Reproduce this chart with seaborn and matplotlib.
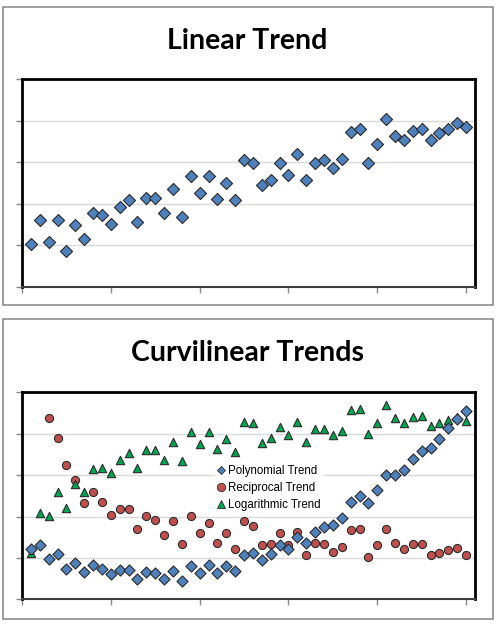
import numpy as np
import pandas as pd
import matplotlib.pyplot as plt
from matplotlib.patches import Rectangle
from matplotlib.lines import Line2D
import seaborn as sns

# datos (x = 1..50)
x = list(range(1, 51))

linear = [10.4, 16.2, 10.9, 16.2, 8.7, 15.0, 11.6, 17.7, 17.2, 15.2,
          19.3, 20.9, 15.7, 21.4, 21.4, 17.7, 23.5, 16.9, 26.8, 22.5,
          26.6, 21.1, 24.9, 20.9, 30.5, 29.9, 24.4, 25.8, 29.7, 27.0,
          31.9, 25.7, 29.9, 30.5, 28.7, 30.7, 37.2, 38.1, 29.9, 34.3,
          40.3, 36.4, 35.3, 37.5, 38.1, 35.3, 37.0, 38.1, 39.4, 38.4]

polynomial = [12.1, 13.0, 9.8, 10.9, 7.2, 8.8, 6.5, 8.3, 7.2, 6.0,
              7.0, 7.0, 4.9, 6.5, 6.3, 4.9, 6.8, 4.3, 8.1, 6.3,
              8.3, 6.3, 8.1, 6.8, 10.7, 11.1, 9.4, 10.9, 13.0, 12.2,
              15.1, 13.6, 16.3, 17.5, 17.9, 19.7, 23.4, 25.0, 23.2, 26.4,
              30.0, 30.0, 31.2, 33.9, 35.8, 36.5, 38.8, 41.3, 43.5, 45.5]

# los dos primeros quedan fuera del grafico
reciprocal = [np.nan, np.nan, 43.9, 39.0, 32.4, 28.8, 23.3, 25.8, 23.5, 20.4,
              21.9, 21.9, 17.0, 20.1, 19.2, 15.5, 18.9, 13.4, 20.1, 16.1,
              18.5, 13.7, 15.9, 12.2, 18.8, 17.8, 13.0, 13.4, 15.9, 13.2,
              16.3, 10.8, 13.7, 13.4, 11.5, 12.6, 16.8, 17.1, 10.3, 13.0,
              17.1, 13.7, 12.2, 13.4, 13.4, 10.8, 11.2, 11.8, 12.3, 10.8]

logarithmic = [11.1, 20.9, 20.1, 26.0, 22.1, 27.8, 26.0, 31.4, 31.6, 30.4,
               33.7, 35.3, 31.8, 36.0, 36.1, 33.6, 37.9, 33.3, 40.5, 37.4,
               40.3, 36.2, 38.8, 35.7, 42.9, 42.5, 37.8, 39.0, 41.6, 39.6,
               42.9, 38.0, 41.1, 41.1, 39.7, 40.7, 45.8, 45.9, 39.9, 42.7,
               47.0, 43.9, 42.7, 44.1, 44.3, 41.9, 42.7, 43.3, 44.1, 43.1]

titles = ["Linear Trend", "Curvilinear Trends"]
legend_labels = ["Polynomial Trend", "Reciprocal Trend", "Logarithmic Trend"]

blue = "#4F81BD"
red = "#C0504D"
green = "#00A550"
edge = "#2b2b2b"

sns.set_style("white")
plt.rcParams['font.family'] = ['Liberation Sans', 'DejaVu Sans']

fig = plt.figure(figsize=(4.99, 6.24), dpi=100)

# marcos de cada grafico
for (y0, y1) in [(7, 305), (319, 619)]:
    fig.patches.append(Rectangle((3 / 499, 1 - y1 / 624), 490 / 499, (y1 - y0) / 624,
                                 transform=fig.transFigure, fill=False,
                                 edgecolor="#8c8c8c", linewidth=1.2))

ax1 = fig.add_axes([22 / 499, 1 - 287 / 624, 453 / 499, 208 / 624])
ax2 = fig.add_axes([22 / 499, 1 - 599.3 / 624, 453 / 499, 207 / 624])

df1 = pd.DataFrame({"x": x, "y": linear})
sns.scatterplot(data=df1, x="x", y="y", ax=ax1, marker="D", s=38,
                color=blue, edgecolor=edge, linewidth=0.8, zorder=3)

df2 = pd.DataFrame({"x": x, "poly": polynomial, "rec": reciprocal, "log": logarithmic})
sns.scatterplot(data=df2, x="x", y="rec", ax=ax2, marker="o", s=34,
                color=red, edgecolor=edge, linewidth=0.8, zorder=3)
sns.scatterplot(data=df2, x="x", y="log", ax=ax2, marker="^", s=36,
                color=green, edgecolor=edge, linewidth=0.8, zorder=3)
sns.scatterplot(data=df2, x="x", y="poly", ax=ax2, marker="D", s=32,
                color=blue, edgecolor=edge, linewidth=0.8, zorder=4)

for ax in [ax1, ax2]:
    ax.set_xlim(0, 51)
    ax.set_ylim(0, 50)
    ax.set_xticks(range(0, 51, 10))
    ax.set_yticks(range(0, 51, 10))
    ax.set_xticklabels([])
    ax.set_yticklabels([])
    ax.set_xlabel("")
    ax.set_ylabel("")
    ax.grid(axis="y", color="#d9d9d9", linewidth=1)
    ax.set_axisbelow(True)
    ax.tick_params(axis="both", direction="out", length=4, width=1,
                   color="#868686", bottom=True, left=True)
    for side in ["top", "right", "left"]:
        ax.spines[side].set_color("black")
        ax.spines[side].set_linewidth(2)
    ax.spines["bottom"].set_color("#404040")
    ax.spines["bottom"].set_linewidth(1.5)

fig.text(0.495, 1 - 49.3 / 624, titles[0], ha="center", va="baseline",
         fontsize=20.5, fontweight="bold", family="Lato", color="black")
fig.text(0.496, 1 - 360.7 / 624, titles[1], ha="center", va="baseline",
         fontsize=20.5, fontweight="bold", family="Lato", color="black")

handles = [
    Line2D([], [], linestyle="none", marker="D", markersize=4.5, markerfacecolor=blue,
           markeredgecolor=edge, markeredgewidth=0.6),
    Line2D([], [], linestyle="none", marker="o", markersize=6, markerfacecolor=red,
           markeredgecolor=edge, markeredgewidth=0.6),
    Line2D([], [], linestyle="none", marker="^", markersize=6, markerfacecolor=green,
           markeredgecolor=edge, markeredgewidth=0.6),
]
leg = ax2.legend(handles, legend_labels, loc="upper left", bbox_to_anchor=(0.425, 0.665),
                 frameon=True, fontsize=8.3, handlelength=0.6, handletextpad=0.3,
                 labelspacing=0.45, borderpad=0.3, borderaxespad=0, labelcolor="black")
leg.get_frame().set_facecolor("white")
leg.get_frame().set_edgecolor("none")
leg.get_frame().set_alpha(1)
leg.set_zorder(2.5)

fig.savefig("out.png", dpi=100)
